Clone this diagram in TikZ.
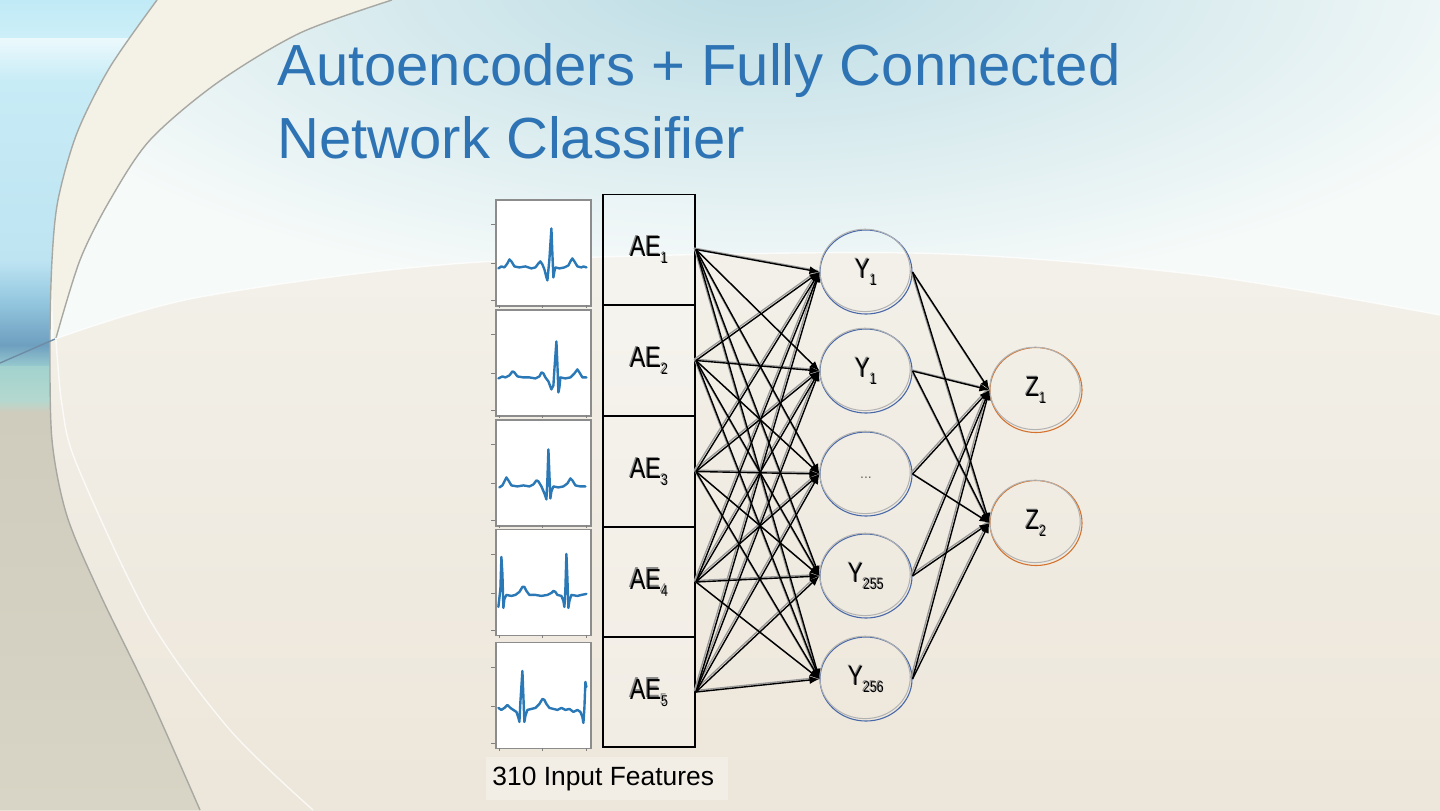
\documentclass[tikz,border=0pt]{standalone}
\usepackage{fontspec}
\setmainfont{Liberation Sans}
\usetikzlibrary{shapes.geometric,arrows.meta}
\definecolor{titleblue}{RGB}{46,116,181}
\definecolor{ecgblue}{RGB}{43,120,182}
\definecolor{yblue}{RGB}{72,104,168}
\definecolor{zorange}{RGB}{212,115,47}
\definecolor{txtshadow}{RGB}{135,135,135}
\definecolor{lowtop}{HTML}{F5F5F0}
\definecolor{lowbot}{HTML}{EDE6DA}
\definecolor{upbase}{HTML}{F6FAF9}
\definecolor{upteal}{HTML}{BBDCE4}
\definecolor{crescent}{HTML}{F4F2E7}
\definecolor{arcgray}{HTML}{A8A8A3}
\newcommand\mysub[2]{#1\raisebox{-3.5pt}{\fontsize{7.8}{7.8}\selectfont #2}}
\newcommand\myshadow[1]{\makebox[0pt][l]{\hspace{-0.7pt}\raisebox{0.6pt}{\textcolor{txtshadow}{#1}}}#1}
\newcommand\ecgtrace[2]{%
  \begin{scope}[shift={(#1.north west)}]
    \foreach \t in {25,64,101} \draw[ticklook] (0,\t) -- (-4,\t);
    \foreach \t in {4,47,91} \draw[ticklook] (\t,106) -- (\t,109);
    \draw[tracelook] plot coordinates {#2};
  \end{scope}}
\begin{document}
\begin{tikzpicture}[x=0.5pt,y=-0.5pt,
  titletext/.style={text=titleblue,inner sep=0pt,font=\fontsize{29}{29}\selectfont},
  aebox/.style={draw=black,line width=0.95pt,minimum width=46pt,minimum height=55pt,inner sep=0pt,fill=white,fill opacity=0.25,text opacity=1,font=\fontsize{14.5}{14.5}\selectfont},
  ecgpanel/.style={draw=black!45,line width=0.6pt,fill=white,minimum width=47.5pt,minimum height=53pt,inner sep=0pt},
  yneuron/.style={ellipse,draw=yblue,line width=0.55pt,minimum width=46pt,minimum height=42pt,inner sep=0pt,font=\fontsize{14}{14}\selectfont},
  zneuron/.style={yneuron,draw=zorange,minimum height=42.5pt},
  conn/.style={draw=black,line width=0.7pt,-{Latex[length=5pt,width=4pt]}},
  connshadow/.style={draw=black!40,line width=0.65pt},
  ellshadow/.style={draw=black!30,line width=0.5pt},
  ticklook/.style={draw=black!50,line width=0.4pt},
  tracelook/.style={draw=ecgblue,line width=1.2pt,line join=round,line cap=round},
  arcline/.style={draw=arcgray,line width=0.7pt},
  lightarc/.style={draw=white,line width=0.7pt,draw opacity=0.75}
]
\useasboundingbox (0,0) rectangle (1440,810);
% ---------- background ----------
\shade[top color=lowtop,bottom color=lowbot] (0,0) rectangle (1440,810);
\begin{scope}
  \clip (0,0) -- (1440,0) -- plot[smooth] coordinates {(1440,315) (1200,275) (912,253) (480,262) (200,297) (55,339) (0,363)} -- cycle;
  \fill[upbase] (0,0) rectangle (1440,420);
  \shade[inner color=upteal,outer color=upbase] (760,-20) ellipse [x radius=400pt, y radius=160pt];
\end{scope}
\fill[crescent] plot[smooth] coordinates {(157,0) (110,67) (77,133) (58,200) (52,260) (54,338)} -- plot[smooth] coordinates {(56,338) (80,260) (110,200) (150,140) (217,83) (300,33) (392,0)} -- cycle;
\begin{scope}
  \clip (0,0) -- plot[smooth] coordinates {(157,0) (110,67) (77,133) (58,200) (52,260) (50,340) (52,440) (67,516) (100,594) (150,697) (200,810)} -- (0,810) -- cycle;
  \shade[top color={rgb,255:red,192;green,234;blue,246},bottom color={rgb,255:red,205;green,239;blue,248}] (0,0) rectangle (200,38);
  \shade[top color={rgb,255:red,236;green,249;blue,252},bottom color={rgb,255:red,200;green,236;blue,246}] (0,38) rectangle (200,80);
  \shade[top color={rgb,255:red,200;green,236;blue,246},bottom color={rgb,255:red,190;green,228;blue,242}] (0,80) rectangle (200,260);
  \shade[top color={rgb,255:red,190;green,228;blue,242},bottom color={rgb,255:red,149;green,200;blue,224}] (0,260) rectangle (200,300);
  \shade[top color={rgb,255:red,149;green,200;blue,224},bottom color={rgb,255:red,110;green,159;blue,191}] (0,300) rectangle (200,345);
  \shade[top color={rgb,255:red,110;green,159;blue,191},bottom color={rgb,255:red,151;green,201;blue,207}] (0,345) rectangle (200,366);
  \shade[top color={rgb,255:red,162;green,210;blue,206},bottom color={rgb,255:red,180;green,216;blue,207}] (0,366) rectangle (200,400);
  \shade[top color={rgb,255:red,180;green,216;blue,207},bottom color={rgb,255:red,207;green,204;blue,189}] (0,400) rectangle (200,412);
  \shade[top color={rgb,255:red,207;green,204;blue,189},bottom color={rgb,255:red,217;green,213;blue,198}] (0,412) rectangle (200,810);
\end{scope}
\draw[arcline] plot[smooth] coordinates {(157,0) (110,67) (77,133) (58,200) (52,260) (50,340) (52,440) (67,516) (100,594) (150,697) (200,810)};
\draw[arcline] plot[smooth] coordinates {(392,0) (300,33) (217,83) (150,140) (110,200) (80,260) (56,338)};
\draw[lightarc] plot[smooth] coordinates {(56,340) (62,405) (77,465) (150,620) (230,730) (313,810)};
\draw[draw={rgb,255:red,110;green,140;blue,165},line width=0.7pt] (0,363) -- (55,339);
\draw[lightarc] plot[smooth] coordinates {(55,339) (200,297) (480,262) (912,253) (1200,275) (1440,315)};
% ---------- title ----------
\node[titletext,anchor=base west] (t1) at (277,85) {Autoencoders + Fully Connected};
\node[titletext,anchor=base west] (t2) at (277,158) {Network Classifier};
% ---------- ECG panels ----------
\node[ecgpanel] (p1) at (543.5,253) {};
\node[ecgpanel] (p2) at (543.5,363) {};
\node[ecgpanel] (p3) at (543.5,473) {};
\node[ecgpanel] (p4) at (543.5,582.5) {};
\node[ecgpanel] (p5) at (543.5,695.5) {};
\ecgtrace{p1}{(3,69)(6,67)(9,68)(12,64)(14,60)(16,62)(19,67)(24,68)(30,67)(36,69)(40,68)(43,64)(45,62)(47,65)(49,70)(51,78)(52,81)(54,60)(56,29)(57,55)(58,78)(59,72)(60,68)(64,69)(69,68)(73,66)(75,62)(77,59)(79,62)(82,67)(86,68)(88,67)(91,68)}
\ecgtrace{p2}{(3,69)(7,67)(10,68)(14,66)(17,62)(19,63)(22,67)(28,68)(34,68)(40,69)(44,67)(46,63)(48,64)(50,68)(53,72)(56,80)(58,76)(59,60)(61,32)(62,55)(63,83)(64,78)(65,68)(70,69)(75,68)(79,64)(82,60)(84,63)(87,68)(91,68)}
\ecgtrace{p3}{(4,68)(7,66)(9,62)(11,58)(13,61)(16,66)(22,67)(28,66)(34,67)(38,65)(41,61)(43,62)(46,67)(49,74)(51,80)(52,60)(53,30)(54,55)(55,79)(56,72)(58,67)(63,68)(68,67)(72,64)(75,59)(77,61)(80,66)(85,67)(90,67)}
\ecgtrace{p4}{(3,78)(5,60)(6,28)(7,45)(8,79)(9,70)(11,66)(16,67)(20,66)(24,63)(27,58)(29,58)(31,62)(34,66)(40,66)(46,67)(52,66)(56,64)(58,62)(60,63)(62,66)(66,67)(68,72)(69,78)(70,60)(71,25)(72,50)(73,79)(74,72)(76,66)(82,67)(86,66)(91,65)}
\ecgtrace{p5}{(3,66)(6,68)(9,66)(12,63)(15,66)(18,68)(21,70)(23,76)(24,80)(25,60)(27,29)(28,55)(29,80)(30,74)(32,68)(36,67)(40,66)(44,62)(47,57)(49,58)(51,62)(54,66)(58,67)(62,68)(66,66)(70,68)(74,67)(78,70)(82,68)(85,70)(87,75)(88,81)(89,66)(90,40)(91,45)}
% ---------- AE boxes ----------
\node[aebox] (ae1) at (649,249.5) {\scalebox{0.8}[1]{\myshadow{\mysub{AE}{1}}}};
\node[aebox] (ae2) at (649,360.5) {\scalebox{0.8}[1]{\myshadow{\mysub{AE}{2}}}};
\node[aebox] (ae3) at (649,471.5) {\scalebox{0.8}[1]{\myshadow{\mysub{AE}{3}}}};
\node[aebox] (ae4) at (649,582) {\scalebox{0.8}[1]{\myshadow{\mysub{AE}{4}}}};
\node[aebox] (ae5) at (649,692) {\scalebox{0.8}[1]{\myshadow{\mysub{AE}{5}}}};
% ---------- neurons ----------
\node[yneuron] (y1) at (866,272) {\scalebox{0.8}[1]{\myshadow{\mysub{Y}{1}}}};
\node[yneuron] (y2) at (866,371) {\scalebox{0.8}[1]{\myshadow{\mysub{Y}{1}}}};
\node[yneuron,font=\fontsize{7}{7}\selectfont,text=black!60] (y3) at (866,474) {\raisebox{-4pt}{...}};
\node[yneuron] (y4) at (866,576) {\scalebox{0.8}[1]{\myshadow{\mysub{Y}{255}}}};
\node[yneuron] (y5) at (866,679) {\scalebox{0.8}[1]{\myshadow{\mysub{Y}{256}}}};
\node[zneuron] (z1) at (1036,390) {\scalebox{0.8}[1]{\myshadow{\mysub{Z}{1}}}};
\node[zneuron] (z2) at (1036,523) {\scalebox{0.8}[1]{\myshadow{\mysub{Z}{2}}}};
\foreach \n in {y1,y2,y3,y4,y5,z1,z2}
  \draw[ellshadow] ([shift={(-1,-1.6)}]\n.center) ellipse [x radius=22.6pt, y radius=20.6pt];
% ---------- connectors ----------
\begin{scope}[transform canvas={shift={(-0.8pt,0.7pt)}}]
  \foreach \i in {1,...,5}
    \foreach \j in {1,...,5}
      \draw[connshadow] (ae\i.east) -- (y\j.west);
  \foreach \j in {1,...,5}
    \foreach \k in {1,2}
      \draw[connshadow] (y\j.east) -- (z\k.west);
\end{scope}
\foreach \i in {1,...,5}
  \foreach \j in {1,...,5}
    \draw[conn] (ae\i.east) -- (y\j.west);
\foreach \j in {1,...,5}
  \foreach \k in {1,2}
    \draw[conn] (y\j.east) -- (z\k.west);
% ---------- caption ----------
\fill[white,fill opacity=0.3] (486,757) rectangle (728,800);
\node[anchor=base west,inner sep=0pt,font=\fontsize{13.2}{13.2}\selectfont] (cap) at (492,785) {310 Input Features};
\end{tikzpicture}
\end{document}
